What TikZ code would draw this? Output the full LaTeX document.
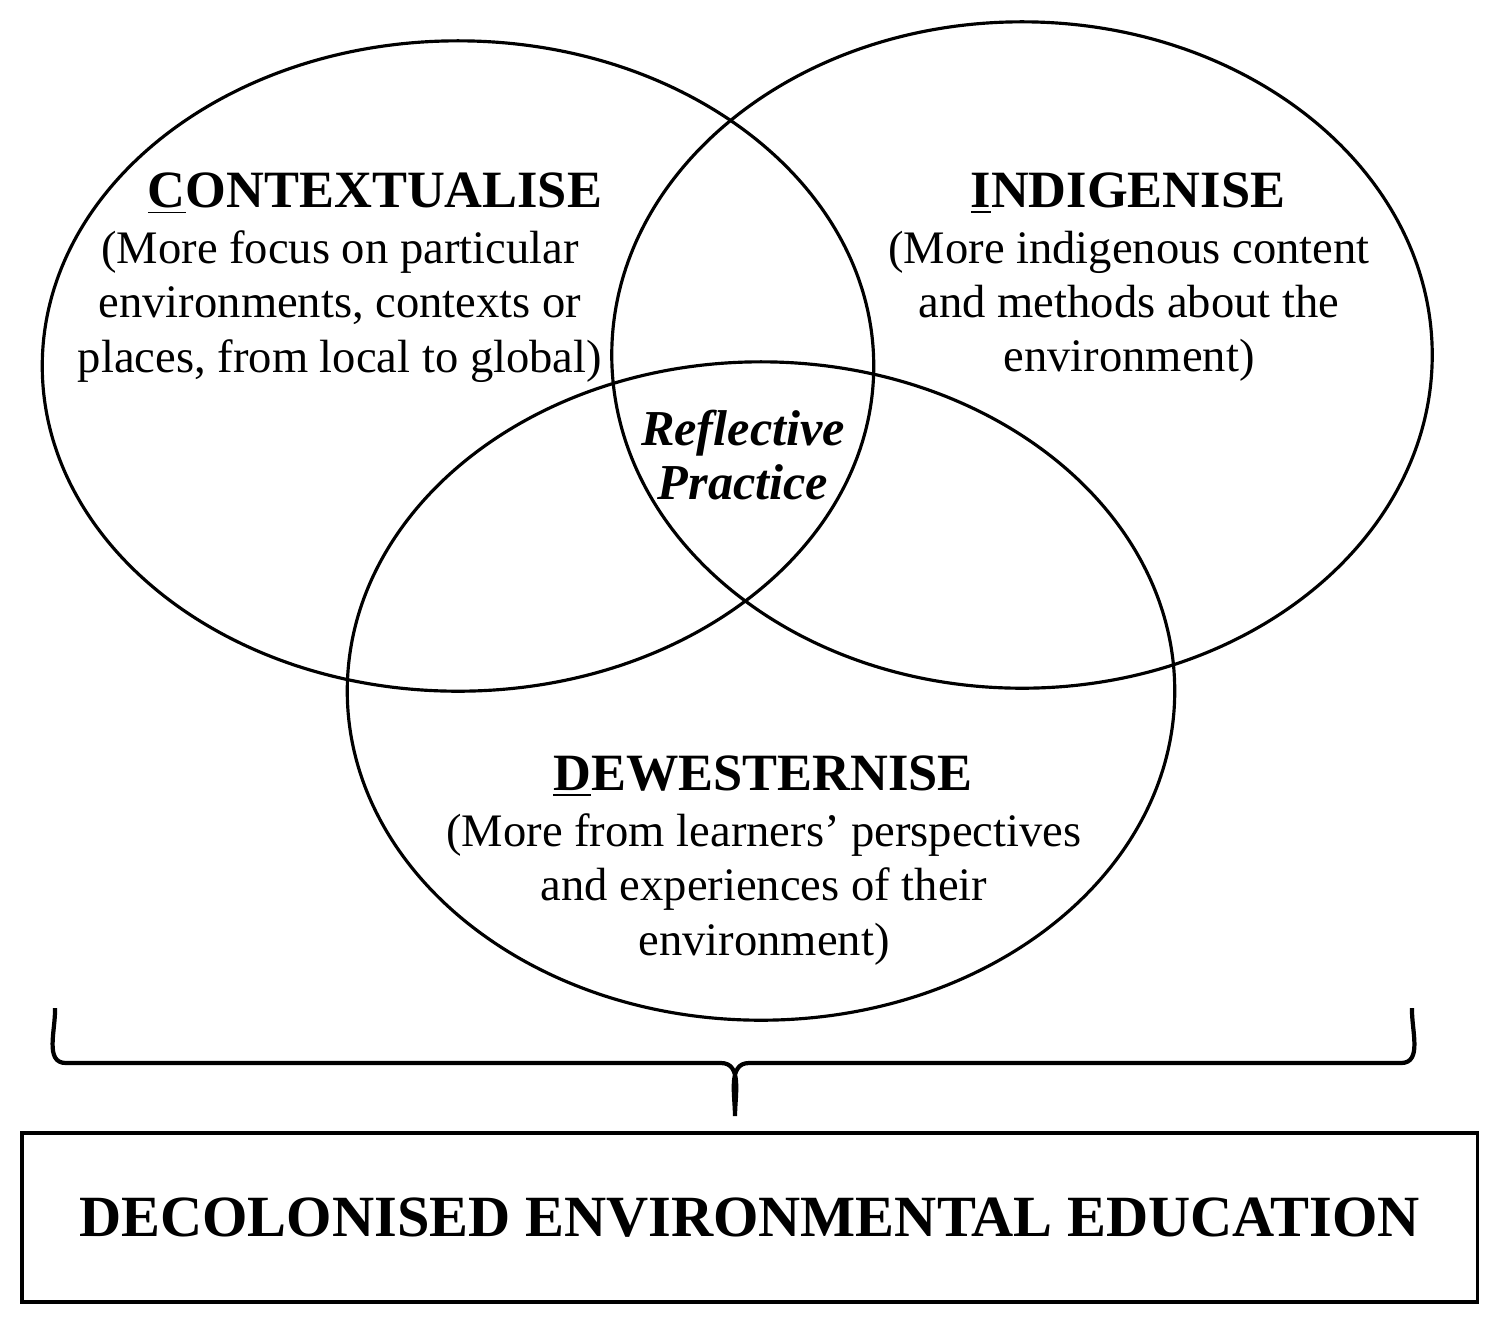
\documentclass[tikz,border=0pt]{standalone}
\usepackage{fontspec}
\setmainfont{Liberation Serif}
\usepackage{tikz}
\usetikzlibrary{calc}

\tikzset{
  venn/.style={line width=0.9pt},
  heading/.style={anchor=base, inner sep=0pt, font=\fontsize{14.9}{17}\selectfont\bfseries},
  blurb/.style={anchor=north, inner sep=0pt, align=center, font=\fontsize{13.25}{15.45}\selectfont},
  outcome/.style={draw, line width=1.1pt, minimum width=14.55cm, minimum height=1.69cm,
    font=\fontsize{16.6}{19}\selectfont\bfseries}
}

\begin{document}
\begin{tikzpicture}[x=0.01cm, y=-0.01cm]
\useasboundingbox (0,0) rectangle (1500,1329);

% the three circles
\draw[venn] (458,366) ellipse [x radius=4.155cm, y radius=3.25cm];
\draw[venn] (1022,355) ellipse [x radius=4.10cm, y radius=3.33cm];
\draw[venn] (761,691) ellipse [x radius=4.135cm, y radius=3.29cm];

% headings and explanations
\node[heading] (ctxhead) at (375,207) {\underline{C}ONTEXTUALISE};
\node[blurb] (ctxtext) at (340,230) {(More focus on particular\\ environments, contexts or\\ places, from local to global)};

\node[heading] (indhead) at (1128,207) {\underline{I}NDIGENISE};
\node[blurb] (indtext) at (1129,230) {(More indigenous content\\ and methods about the\\ environment)};

\node[heading] (dewhead) at (763,790) {\underline{D}EWESTERNISE};
\node[blurb] (dewtext) at (764,813) {(More from learners' perspectives\\ and experiences of their\\ environment)};

\node[align=center, inner sep=0pt, font=\fontsize{14.3}{15.2}\selectfont\bfseries\itshape] (reflect) at (743,455) {Reflective\\ Practice};

% brace down to the result
\coordinate (bl) at (55,1008);
\coordinate (br) at (1412,1008);
\coordinate (tip) at (735,1116);
\draw[line width=1.2pt] (bl) to[out=-88,in=180] (66,1063) -- (721,1063)
  to[out=0,in=90] (tip) to[out=90,in=180] (749,1063) -- (1401,1063) to[out=0,in=-92] (br);

\node[outcome] (deco) at (749.5,1217.5) {DECOLONISED ENVIRONMENTAL EDUCATION};
\end{tikzpicture}
\end{document}
